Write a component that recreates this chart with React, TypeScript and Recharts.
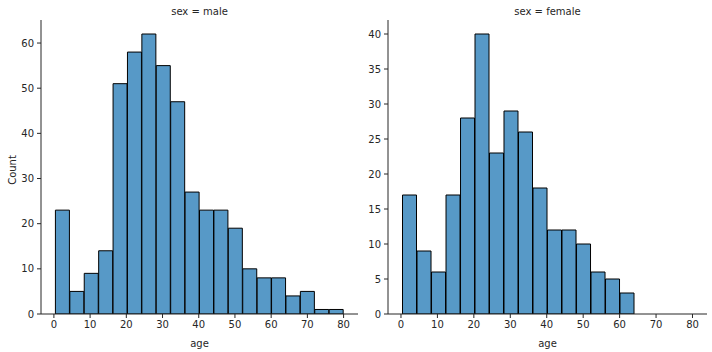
import React from 'react';
import { BarChart, Bar, XAxis, YAxis } from 'recharts';

// histogram bins (age), shared by both panels
const binEdges = [0.42, 4.4, 8.38, 12.36, 16.34, 20.32, 24.29, 28.27, 32.25, 36.23, 40.21, 44.19, 48.17, 52.15, 56.13, 60.11, 64.08, 68.06, 72.04, 76.02, 80.0];
const maleCounts = [23, 5, 9, 14, 51, 58, 62, 55, 47, 27, 23, 23, 19, 10, 8, 8, 4, 5, 1, 1];
const femaleCounts = [17, 9, 6, 17, 28, 40, 23, 29, 26, 18, 12, 12, 10, 6, 5, 3, 0, 0, 0, 0];
const ageTicks = [0, 10, 20, 30, 40, 50, 60, 70, 80];
const maleTicks = [0, 10, 20, 30, 40, 50, 60];
const femaleTicks = [0, 5, 10, 15, 20, 25, 30, 35, 40];

const toBins = (counts: number[]) =>
  counts.map((c, i) => ({ mid: (binEdges[i] + binEdges[i + 1]) / 2, count: c }));

const maleData = toBins(maleCounts);
const femaleData = toBins(femaleCounts);

const FONT = 'DejaVu Sans, sans-serif';
const TEXT = '#262626';
const BAR = '#5799c7';

type PanelProps = {
  title: string;
  data: { mid: number; count: number }[];
  yTicks: number[];
  yMax: number;
  left: number;
  width: number;
  yAxisWidth: number;
  rightMargin: number;
  showCount?: boolean;
};

function Panel({ title, data, yTicks, yMax, left, width, yAxisWidth, rightMargin, showCount }: PanelProps) {
  const tick = { fontSize: 10, fill: TEXT, fontFamily: FONT };
  return (
    <div style={{ position: 'absolute', left, top: 0, width, height: 352 }}>
      <div
        style={{
          position: 'absolute',
          top: 6,
          left: yAxisWidth,
          width: width - yAxisWidth - rightMargin,
          textAlign: 'center',
          fontSize: 10,
          fontFamily: FONT,
          color: TEXT,
        }}
      >
        {title}
      </div>
      <BarChart
        width={width}
        height={352}
        data={data}
        margin={{ top: 20, right: rightMargin, bottom: 0, left: 0 }}
        barCategoryGap={0}
        barGap={0}
      >
        <XAxis
          type="number"
          dataKey="mid"
          domain={[-3.56, 83.98]}
          ticks={ageTicks}
          allowDataOverflow
          height={38}
          tickSize={4}
          tickMargin={3}
          stroke={TEXT}
          tick={tick}
          label={{ value: 'age', position: 'insideBottom', offset: 5, fontSize: 10, fill: TEXT, fontFamily: FONT }}
        />
        <YAxis
          type="number"
          domain={[0, yMax]}
          ticks={yTicks}
          allowDataOverflow
          width={yAxisWidth}
          tickSize={4}
          tickMargin={3}
          stroke={TEXT}
          tick={tick}
          label={
            showCount
              ? {
                  content: ({ viewBox }: any) => {
                    const cx = viewBox.x + 12;
                    const cy = viewBox.y + viewBox.height / 2 + 3;
                    return (
                      <text
                        x={cx}
                        y={cy}
                        transform={`rotate(-90 ${cx} ${cy})`}
                        textAnchor="middle"
                        dominantBaseline="central"
                        fontSize={10}
                        fill={TEXT}
                        fontFamily={FONT}
                      >
                        Count
                      </text>
                    );
                  },
                }
              : undefined
          }
        />
        <Bar dataKey="count" fill={BAR} stroke="#000" strokeWidth={1} isAnimationActive={false} />
      </BarChart>
    </div>
  );
}

export default function App() {
  return (
    <div style={{ position: 'absolute', left: 0, top: 0, width: 712, height: 352, background: '#fff' }}>
      <Panel
        title="sex = male"
        data={maleData}
        yTicks={maleTicks}
        yMax={65.1}
        left={0}
        width={360}
        yAxisWidth={41}
        rightMargin={2}
        showCount
      />
      <Panel
        title="sex = female"
        data={femaleData}
        yTicks={femaleTicks}
        yMax={42}
        left={356}
        width={356}
        yAxisWidth={32}
        rightMargin={5}
      />
    </div>
  );
}
